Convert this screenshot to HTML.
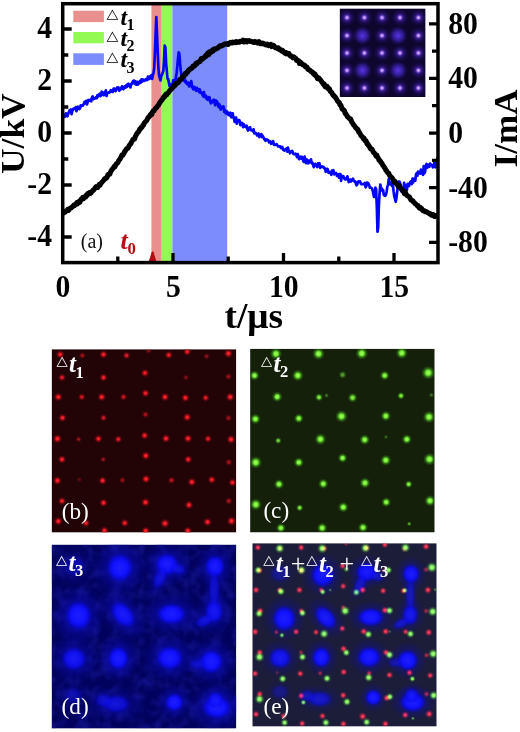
<!DOCTYPE html>
<html lang="en"><head><meta charset="utf-8"><title>Figure: discharge waveform and time-resolved pattern images</title>
<style>html,body{margin:0;padding:0;background:#fff}svg{display:block}text{font-family:"Liberation Serif", "DejaVu Serif", serif}.b{font-weight:bold}.ax{font-weight:bold;font-size:31.4px;fill:#000}.ttl{font-weight:bold;font-size:36px;fill:#000}.pl{font-size:23.2px;fill:#fff}</style></head><body>
<svg width="520" height="732" viewBox="0 0 520 732">
<defs>
<radialGradient id="gR"><stop offset="0" stop-color="#fa2c34"/><stop offset=".3" stop-color="#ea1822"/><stop offset=".58" stop-color="#b80c18" stop-opacity=".5"/><stop offset="1" stop-color="#900010" stop-opacity="0"/></radialGradient>
<radialGradient id="gG"><stop offset="0" stop-color="#aaff5c"/><stop offset=".34" stop-color="#74ee36"/><stop offset=".6" stop-color="#4cc020" stop-opacity=".5"/><stop offset="1" stop-color="#2f8a10" stop-opacity="0"/></radialGradient>
<radialGradient id="gB"><stop offset="0" stop-color="#1e1eff"/><stop offset=".52" stop-color="#1212ff"/><stop offset=".76" stop-color="#0a0aee" stop-opacity=".65"/><stop offset="1" stop-color="#0606c0" stop-opacity="0"/></radialGradient>
<radialGradient id="gBg"><stop offset="0" stop-color="#0e0ed0" stop-opacity=".9"/><stop offset=".5" stop-color="#0c0cbc" stop-opacity=".5"/><stop offset="1" stop-color="#0808a0" stop-opacity="0"/></radialGradient>
<radialGradient id="gV"><stop offset="0" stop-color="#e2c6ff"/><stop offset=".16" stop-color="#a878ff"/><stop offset=".34" stop-color="#5a30d0" stop-opacity=".6"/><stop offset=".6" stop-color="#3a1ca8" stop-opacity=".3"/><stop offset="1" stop-color="#2a1490" stop-opacity="0"/></radialGradient>
<radialGradient id="gI"><stop offset="0" stop-color="#5a34e6"/><stop offset=".5" stop-color="#4426c4" stop-opacity=".7"/><stop offset="1" stop-color="#2a1490" stop-opacity="0"/></radialGradient>
<filter id="nz" x="0" y="0" width="100%" height="100%"><feTurbulence type="fractalNoise" baseFrequency=".09" numOctaves="2" seed="3" result="t"/><feColorMatrix in="t" type="matrix" values="0 0 0 0 0.03  0 0 0 0 0.03  0 0 0 0 .72  0 0 1.5 0 -0.6"/></filter>
<filter id="bl1"><feGaussianBlur stdDeviation="1.1"/></filter>
<clipPath id="cb"><rect x="51.6" y="349.2" width="184.7" height="183.4"/></clipPath>
<clipPath id="cc"><rect x="250.1" y="348.7" width="184.6" height="183.8"/></clipPath>
<clipPath id="cd"><rect x="51.6" y="544.6" width="184.7" height="184.0"/></clipPath>
<clipPath id="ce"><rect x="252.3" y="543.2" width="184.4" height="183.4"/></clipPath>
<clipPath id="ci"><rect x="339.6" y="8.4" width="86" height="88.6"/></clipPath>
<clipPath id="cp"><rect x="62.7" y="3.7" width="375.3" height="258.9"/></clipPath>
<g id="dR"><circle cx="60.2" cy="354.5" r="4.4" fill="url(#gR)" opacity="1"/><circle cx="82.3" cy="355.5" r="3.7" fill="url(#gR)" opacity="0.6"/><circle cx="103.5" cy="354.5" r="4.4" fill="url(#gR)" opacity="1"/><circle cx="126.6" cy="355.5" r="4.2" fill="url(#gR)" opacity="0.85"/><circle cx="148.5" cy="350.8" r="3.5" fill="url(#gR)" opacity="0.45"/><circle cx="168.8" cy="355.0" r="4.4" fill="url(#gR)" opacity="0.9"/><circle cx="187.2" cy="351.7" r="4.4" fill="url(#gR)" opacity="0.95"/><circle cx="206.6" cy="356.3" r="3.7" fill="url(#gR)" opacity="0.5"/><circle cx="228.4" cy="353.5" r="4.8" fill="url(#gR)" opacity="1"/><circle cx="62.0" cy="377.5" r="4.2" fill="url(#gR)" opacity="0.9"/><circle cx="103.5" cy="377.5" r="4.4" fill="url(#gR)" opacity="0.95"/><circle cx="145.0" cy="373.0" r="4.4" fill="url(#gR)" opacity="0.95"/><circle cx="186.0" cy="377.5" r="3.5" fill="url(#gR)" opacity="0.45"/><circle cx="228.4" cy="376.6" r="4.0" fill="url(#gR)" opacity="0.55"/><circle cx="58.3" cy="397.0" r="4.6" fill="url(#gR)" opacity="1"/><circle cx="81.8" cy="397.0" r="4.0" fill="url(#gR)" opacity="0.8"/><circle cx="101.7" cy="397.0" r="4.6" fill="url(#gR)" opacity="1"/><circle cx="123.5" cy="397.0" r="4.0" fill="url(#gR)" opacity="0.75"/><circle cx="145.5" cy="393.2" r="4.4" fill="url(#gR)" opacity="0.95"/><circle cx="165.0" cy="397.0" r="4.6" fill="url(#gR)" opacity="1"/><circle cx="185.4" cy="397.8" r="4.4" fill="url(#gR)" opacity="1"/><circle cx="205.7" cy="397.8" r="4.2" fill="url(#gR)" opacity="0.9"/><circle cx="230.2" cy="397.0" r="4.8" fill="url(#gR)" opacity="1"/><circle cx="62.5" cy="417.8" r="4.4" fill="url(#gR)" opacity="1"/><circle cx="103.5" cy="417.8" r="4.0" fill="url(#gR)" opacity="0.8"/><circle cx="145.5" cy="414.5" r="4.0" fill="url(#gR)" opacity="0.6"/><circle cx="187.2" cy="417.2" r="4.6" fill="url(#gR)" opacity="1"/><circle cx="228.4" cy="418.0" r="4.0" fill="url(#gR)" opacity="0.55"/><circle cx="57.4" cy="438.8" r="4.8" fill="url(#gR)" opacity="1"/><circle cx="78.6" cy="439.2" r="3.5" fill="url(#gR)" opacity="0.55"/><circle cx="98.4" cy="438.8" r="4.4" fill="url(#gR)" opacity="0.95"/><circle cx="118.3" cy="439.2" r="4.2" fill="url(#gR)" opacity="0.9"/><circle cx="144.6" cy="435.5" r="4.4" fill="url(#gR)" opacity="0.95"/><circle cx="166.0" cy="438.5" r="4.6" fill="url(#gR)" opacity="1"/><circle cx="188.0" cy="438.5" r="4.6" fill="url(#gR)" opacity="1"/><circle cx="208.0" cy="438.8" r="4.2" fill="url(#gR)" opacity="0.9"/><circle cx="231.0" cy="439.4" r="4.8" fill="url(#gR)" opacity="1"/><circle cx="62.0" cy="459.4" r="4.4" fill="url(#gR)" opacity="1"/><circle cx="103.2" cy="459.4" r="3.5" fill="url(#gR)" opacity="0.55"/><circle cx="145.8" cy="455.7" r="4.6" fill="url(#gR)" opacity="1"/><circle cx="188.2" cy="459.4" r="4.4" fill="url(#gR)" opacity="0.95"/><circle cx="228.8" cy="462.2" r="4.0" fill="url(#gR)" opacity="0.6"/><circle cx="57.4" cy="480.6" r="4.6" fill="url(#gR)" opacity="1"/><circle cx="79.5" cy="479.7" r="3.1" fill="url(#gR)" opacity="0.3"/><circle cx="102.6" cy="480.6" r="4.4" fill="url(#gR)" opacity="1"/><circle cx="122.4" cy="480.2" r="3.7" fill="url(#gR)" opacity="0.55"/><circle cx="146.0" cy="479.0" r="4.6" fill="url(#gR)" opacity="1"/><circle cx="171.5" cy="480.2" r="4.0" fill="url(#gR)" opacity="0.7"/><circle cx="191.8" cy="482.0" r="4.6" fill="url(#gR)" opacity="1"/><circle cx="211.8" cy="479.7" r="4.4" fill="url(#gR)" opacity="0.95"/><circle cx="232.5" cy="482.5" r="4.4" fill="url(#gR)" opacity="0.95"/><circle cx="62.0" cy="501.0" r="4.4" fill="url(#gR)" opacity="0.95"/><circle cx="103.5" cy="502.8" r="4.4" fill="url(#gR)" opacity="1"/><circle cx="145.5" cy="502.3" r="4.6" fill="url(#gR)" opacity="1"/><circle cx="189.0" cy="505.0" r="4.6" fill="url(#gR)" opacity="1"/><circle cx="228.8" cy="501.0" r="4.0" fill="url(#gR)" opacity="0.65"/><circle cx="58.3" cy="521.2" r="4.6" fill="url(#gR)" opacity="1"/><circle cx="86.0" cy="523.0" r="4.4" fill="url(#gR)" opacity="0.95"/><circle cx="124.8" cy="523.0" r="4.4" fill="url(#gR)" opacity="0.95"/><circle cx="165.0" cy="523.4" r="5.0" fill="url(#gR)" opacity="1"/><circle cx="207.5" cy="522.0" r="4.6" fill="url(#gR)" opacity="1"/><circle cx="231.5" cy="521.0" r="5.0" fill="url(#gR)" opacity="1"/><circle cx="104.5" cy="530.5" r="4.4" fill="url(#gR)" opacity="1"/><circle cx="145.7" cy="530.8" r="4.4" fill="url(#gR)" opacity="1"/><circle cx="187.8" cy="530.8" r="4.4" fill="url(#gR)" opacity="1"/></g>
<g id="dG"><circle cx="276.0" cy="353.8" r="6.2" fill="url(#gG)" opacity="1"/><circle cx="318.5" cy="353.8" r="6.4" fill="url(#gG)" opacity="1"/><circle cx="361.8" cy="353.4" r="6.4" fill="url(#gG)" opacity="1"/><circle cx="401.8" cy="353.0" r="6.2" fill="url(#gG)" opacity="1"/><circle cx="254.5" cy="375.5" r="5.2" fill="url(#gG)" opacity="1"/><circle cx="297.8" cy="375.5" r="6.0" fill="url(#gG)" opacity="1"/><circle cx="342.6" cy="374.8" r="4.2" fill="url(#gG)" opacity="0.55"/><circle cx="384.7" cy="375.5" r="5.0" fill="url(#gG)" opacity="1"/><circle cx="428.2" cy="372.8" r="7.0" fill="url(#gG)" opacity="1"/><circle cx="277.2" cy="396.8" r="5.4" fill="url(#gG)" opacity="1"/><circle cx="319.0" cy="397.3" r="4.2" fill="url(#gG)" opacity="0.9"/><circle cx="326.5" cy="395.5" r="2.6" fill="url(#gG)" opacity="0.4"/><circle cx="352.6" cy="397.7" r="5.0" fill="url(#gG)" opacity="0.9"/><circle cx="401.0" cy="395.8" r="4.0" fill="url(#gG)" opacity="0.9"/><circle cx="431.4" cy="395.0" r="2.8" fill="url(#gG)" opacity="0.35"/><circle cx="255.4" cy="419.0" r="5.4" fill="url(#gG)" opacity="1"/><circle cx="298.8" cy="418.4" r="5.0" fill="url(#gG)" opacity="1"/><circle cx="341.5" cy="416.3" r="6.4" fill="url(#gG)" opacity="1"/><circle cx="385.8" cy="416.0" r="5.4" fill="url(#gG)" opacity="1"/><circle cx="429.0" cy="417.0" r="6.4" fill="url(#gG)" opacity="1"/><circle cx="278.2" cy="440.6" r="3.6" fill="url(#gG)" opacity="0.8"/><circle cx="320.4" cy="439.2" r="6.0" fill="url(#gG)" opacity="1"/><circle cx="364.7" cy="439.7" r="5.4" fill="url(#gG)" opacity="1"/><circle cx="406.8" cy="439.3" r="5.2" fill="url(#gG)" opacity="1"/><circle cx="386.0" cy="437.0" r="2.6" fill="url(#gG)" opacity="0.3"/><circle cx="255.8" cy="462.4" r="6.4" fill="url(#gG)" opacity="1"/><circle cx="298.8" cy="462.4" r="5.2" fill="url(#gG)" opacity="1"/><circle cx="342.6" cy="458.0" r="5.0" fill="url(#gG)" opacity="1"/><circle cx="385.8" cy="460.2" r="5.6" fill="url(#gG)" opacity="1"/><circle cx="429.5" cy="459.2" r="6.4" fill="url(#gG)" opacity="1"/><circle cx="279.0" cy="484.2" r="5.2" fill="url(#gG)" opacity="1"/><circle cx="323.3" cy="483.8" r="5.2" fill="url(#gG)" opacity="1"/><circle cx="365.0" cy="482.9" r="5.6" fill="url(#gG)" opacity="1"/><circle cx="408.7" cy="484.2" r="4.0" fill="url(#gG)" opacity="0.95"/><circle cx="255.8" cy="504.5" r="6.2" fill="url(#gG)" opacity="1"/><circle cx="299.7" cy="507.8" r="3.8" fill="url(#gG)" opacity="0.9"/><circle cx="343.3" cy="507.2" r="5.4" fill="url(#gG)" opacity="1"/><circle cx="386.2" cy="502.2" r="5.0" fill="url(#gG)" opacity="1"/><circle cx="430.0" cy="500.8" r="5.8" fill="url(#gG)" opacity="1"/><circle cx="280.9" cy="528.0" r="5.0" fill="url(#gG)" opacity="1"/><circle cx="322.2" cy="528.0" r="5.4" fill="url(#gG)" opacity="1"/><circle cx="363.0" cy="527.5" r="5.2" fill="url(#gG)" opacity="1"/><circle cx="409.2" cy="523.8" r="2.6" fill="url(#gG)" opacity="0.6"/></g>
<g id="dB"><ellipse cx="74.0" cy="566.0" rx="23.2" ry="20.3" transform="rotate(0 74.0 566.0)" fill="url(#gBg)" opacity="0.35"/><ellipse cx="120.0" cy="567.7" rx="27.6" ry="29.0" transform="rotate(0 120.0 567.7)" fill="url(#gBg)" opacity="1.00"/><ellipse cx="166.9" cy="564.5" rx="24.6" ry="23.2" transform="rotate(0 166.9 564.5)" fill="url(#gBg)" opacity="0.95"/><ellipse cx="160.0" cy="578.0" rx="13.0" ry="26.1" transform="rotate(25 160.0 578.0)" fill="url(#gBg)" opacity="0.55"/><ellipse cx="178.0" cy="569.0" rx="17.4" ry="11.6" transform="rotate(20 178.0 569.0)" fill="url(#gBg)" opacity="0.50"/><ellipse cx="214.9" cy="566.5" rx="20.3" ry="23.2" transform="rotate(0 214.9 566.5)" fill="url(#gBg)" opacity="0.95"/><ellipse cx="214.0" cy="590.0" rx="11.6" ry="40.6" transform="rotate(0 214.0 590.0)" fill="url(#gBg)" opacity="0.50"/><ellipse cx="78.5" cy="615.5" rx="27.6" ry="30.4" transform="rotate(0 78.5 615.5)" fill="url(#gBg)" opacity="1.00"/><ellipse cx="123.0" cy="614.5" rx="20.3" ry="31.9" transform="rotate(-40 123.0 614.5)" fill="url(#gBg)" opacity="0.90"/><ellipse cx="171.5" cy="614.0" rx="30.4" ry="21.8" transform="rotate(0 171.5 614.0)" fill="url(#gBg)" opacity="1.00"/><ellipse cx="214.0" cy="611.5" rx="18.8" ry="24.6" transform="rotate(0 214.0 611.5)" fill="url(#gBg)" opacity="0.80"/><ellipse cx="204.0" cy="621.0" rx="20.3" ry="11.6" transform="rotate(-25 204.0 621.0)" fill="url(#gBg)" opacity="0.55"/><ellipse cx="74.0" cy="658.9" rx="26.1" ry="24.6" transform="rotate(0 74.0 658.9)" fill="url(#gBg)" opacity="0.85"/><ellipse cx="118.3" cy="658.3" rx="21.8" ry="24.6" transform="rotate(0 118.3 658.3)" fill="url(#gBg)" opacity="1.00"/><ellipse cx="169.7" cy="658.0" rx="27.6" ry="24.6" transform="rotate(0 169.7 658.0)" fill="url(#gBg)" opacity="1.00"/><ellipse cx="211.2" cy="661.5" rx="24.6" ry="24.6" transform="rotate(0 211.2 661.5)" fill="url(#gBg)" opacity="1.00"/><ellipse cx="198.0" cy="664.0" rx="17.4" ry="11.6" transform="rotate(0 198.0 664.0)" fill="url(#gBg)" opacity="0.40"/><ellipse cx="116.5" cy="704.0" rx="29.0" ry="18.8" transform="rotate(0 116.5 704.0)" fill="url(#gBg)" opacity="0.60"/><ellipse cx="103.5" cy="700.5" rx="17.4" ry="14.5" transform="rotate(0 103.5 700.5)" fill="url(#gBg)" opacity="0.45"/><ellipse cx="74.0" cy="696.0" rx="20.3" ry="17.4" transform="rotate(0 74.0 696.0)" fill="url(#gBg)" opacity="0.30"/><ellipse cx="174.3" cy="702.3" rx="18.8" ry="18.8" transform="rotate(0 174.3 702.3)" fill="url(#gBg)" opacity="1.00"/><ellipse cx="216.8" cy="707.5" rx="30.4" ry="23.2" transform="rotate(0 216.8 707.5)" fill="url(#gBg)" opacity="1.00"/><ellipse cx="215.5" cy="700.0" rx="17.4" ry="17.4" transform="rotate(0 215.5 700.0)" fill="url(#gBg)" opacity="0.80"/><ellipse cx="74.0" cy="566.0" rx="11.6" ry="10.2" transform="rotate(0 74.0 566.0)" fill="url(#gB)" opacity="0.35"/><ellipse cx="120.0" cy="567.7" rx="13.8" ry="14.5" transform="rotate(0 120.0 567.7)" fill="url(#gB)" opacity="1"/><ellipse cx="166.9" cy="564.5" rx="12.3" ry="11.6" transform="rotate(0 166.9 564.5)" fill="url(#gB)" opacity="0.95"/><ellipse cx="160.0" cy="578.0" rx="6.5" ry="13.0" transform="rotate(25 160.0 578.0)" fill="url(#gB)" opacity="0.55"/><ellipse cx="178.0" cy="569.0" rx="8.7" ry="5.8" transform="rotate(20 178.0 569.0)" fill="url(#gB)" opacity="0.5"/><ellipse cx="214.9" cy="566.5" rx="10.2" ry="11.6" transform="rotate(0 214.9 566.5)" fill="url(#gB)" opacity="0.95"/><ellipse cx="214.0" cy="590.0" rx="5.8" ry="20.3" transform="rotate(0 214.0 590.0)" fill="url(#gB)" opacity="0.5"/><ellipse cx="78.5" cy="615.5" rx="13.8" ry="15.2" transform="rotate(0 78.5 615.5)" fill="url(#gB)" opacity="1"/><ellipse cx="123.0" cy="614.5" rx="10.2" ry="15.9" transform="rotate(-40 123.0 614.5)" fill="url(#gB)" opacity="0.9"/><ellipse cx="171.5" cy="614.0" rx="15.2" ry="10.9" transform="rotate(0 171.5 614.0)" fill="url(#gB)" opacity="1"/><ellipse cx="214.0" cy="611.5" rx="9.4" ry="12.3" transform="rotate(0 214.0 611.5)" fill="url(#gB)" opacity="0.8"/><ellipse cx="204.0" cy="621.0" rx="10.2" ry="5.8" transform="rotate(-25 204.0 621.0)" fill="url(#gB)" opacity="0.55"/><ellipse cx="74.0" cy="658.9" rx="13.0" ry="12.3" transform="rotate(0 74.0 658.9)" fill="url(#gB)" opacity="0.85"/><ellipse cx="118.3" cy="658.3" rx="10.9" ry="12.3" transform="rotate(0 118.3 658.3)" fill="url(#gB)" opacity="1"/><ellipse cx="169.7" cy="658.0" rx="13.8" ry="12.3" transform="rotate(0 169.7 658.0)" fill="url(#gB)" opacity="1"/><ellipse cx="211.2" cy="661.5" rx="12.3" ry="12.3" transform="rotate(0 211.2 661.5)" fill="url(#gB)" opacity="1"/><ellipse cx="198.0" cy="664.0" rx="8.7" ry="5.8" transform="rotate(0 198.0 664.0)" fill="url(#gB)" opacity="0.4"/><ellipse cx="116.5" cy="704.0" rx="14.5" ry="9.4" transform="rotate(0 116.5 704.0)" fill="url(#gB)" opacity="0.6"/><ellipse cx="103.5" cy="700.5" rx="8.7" ry="7.2" transform="rotate(0 103.5 700.5)" fill="url(#gB)" opacity="0.45"/><ellipse cx="74.0" cy="696.0" rx="10.2" ry="8.7" transform="rotate(0 74.0 696.0)" fill="url(#gB)" opacity="0.3"/><ellipse cx="174.3" cy="702.3" rx="9.4" ry="9.4" transform="rotate(0 174.3 702.3)" fill="url(#gB)" opacity="1"/><ellipse cx="216.8" cy="707.5" rx="15.2" ry="11.6" transform="rotate(0 216.8 707.5)" fill="url(#gB)" opacity="1"/><ellipse cx="215.5" cy="700.0" rx="8.7" ry="8.7" transform="rotate(0 215.5 700.0)" fill="url(#gB)" opacity="0.8"/></g>
<g id="eB"><ellipse cx="74.0" cy="566.0" rx="20.0" ry="17.5" transform="rotate(0 74.0 566.0)" fill="url(#gBg)" opacity="0.26"/><ellipse cx="120.0" cy="567.7" rx="23.8" ry="25.0" transform="rotate(0 120.0 567.7)" fill="url(#gBg)" opacity="0.75"/><ellipse cx="166.9" cy="564.5" rx="21.2" ry="20.0" transform="rotate(0 166.9 564.5)" fill="url(#gBg)" opacity="0.71"/><ellipse cx="160.0" cy="578.0" rx="11.2" ry="22.5" transform="rotate(25 160.0 578.0)" fill="url(#gBg)" opacity="0.41"/><ellipse cx="178.0" cy="569.0" rx="15.0" ry="10.0" transform="rotate(20 178.0 569.0)" fill="url(#gBg)" opacity="0.38"/><ellipse cx="214.9" cy="566.5" rx="17.5" ry="20.0" transform="rotate(0 214.9 566.5)" fill="url(#gBg)" opacity="0.71"/><ellipse cx="214.0" cy="590.0" rx="10.0" ry="35.0" transform="rotate(0 214.0 590.0)" fill="url(#gBg)" opacity="0.38"/><ellipse cx="78.5" cy="615.5" rx="23.8" ry="26.2" transform="rotate(0 78.5 615.5)" fill="url(#gBg)" opacity="0.75"/><ellipse cx="123.0" cy="614.5" rx="17.5" ry="27.5" transform="rotate(-40 123.0 614.5)" fill="url(#gBg)" opacity="0.68"/><ellipse cx="171.5" cy="614.0" rx="26.2" ry="18.8" transform="rotate(0 171.5 614.0)" fill="url(#gBg)" opacity="0.75"/><ellipse cx="214.0" cy="611.5" rx="16.2" ry="21.2" transform="rotate(0 214.0 611.5)" fill="url(#gBg)" opacity="0.60"/><ellipse cx="204.0" cy="621.0" rx="17.5" ry="10.0" transform="rotate(-25 204.0 621.0)" fill="url(#gBg)" opacity="0.41"/><ellipse cx="74.0" cy="658.9" rx="22.5" ry="21.2" transform="rotate(0 74.0 658.9)" fill="url(#gBg)" opacity="0.64"/><ellipse cx="118.3" cy="658.3" rx="18.8" ry="21.2" transform="rotate(0 118.3 658.3)" fill="url(#gBg)" opacity="0.75"/><ellipse cx="169.7" cy="658.0" rx="23.8" ry="21.2" transform="rotate(0 169.7 658.0)" fill="url(#gBg)" opacity="0.75"/><ellipse cx="211.2" cy="661.5" rx="21.2" ry="21.2" transform="rotate(0 211.2 661.5)" fill="url(#gBg)" opacity="0.75"/><ellipse cx="198.0" cy="664.0" rx="15.0" ry="10.0" transform="rotate(0 198.0 664.0)" fill="url(#gBg)" opacity="0.30"/><ellipse cx="116.5" cy="704.0" rx="25.0" ry="16.2" transform="rotate(0 116.5 704.0)" fill="url(#gBg)" opacity="0.45"/><ellipse cx="103.5" cy="700.5" rx="15.0" ry="12.5" transform="rotate(0 103.5 700.5)" fill="url(#gBg)" opacity="0.34"/><ellipse cx="74.0" cy="696.0" rx="17.5" ry="15.0" transform="rotate(0 74.0 696.0)" fill="url(#gBg)" opacity="0.22"/><ellipse cx="174.3" cy="702.3" rx="16.2" ry="16.2" transform="rotate(0 174.3 702.3)" fill="url(#gBg)" opacity="0.75"/><ellipse cx="216.8" cy="707.5" rx="26.2" ry="20.0" transform="rotate(0 216.8 707.5)" fill="url(#gBg)" opacity="0.75"/><ellipse cx="215.5" cy="700.0" rx="15.0" ry="15.0" transform="rotate(0 215.5 700.0)" fill="url(#gBg)" opacity="0.60"/><ellipse cx="74.0" cy="566.0" rx="11.2" ry="9.8" transform="rotate(0 74.0 566.0)" fill="url(#gB)" opacity="0.35"/><ellipse cx="120.0" cy="567.7" rx="13.3" ry="14.0" transform="rotate(0 120.0 567.7)" fill="url(#gB)" opacity="1"/><ellipse cx="166.9" cy="564.5" rx="11.9" ry="11.2" transform="rotate(0 166.9 564.5)" fill="url(#gB)" opacity="0.95"/><ellipse cx="160.0" cy="578.0" rx="6.3" ry="12.6" transform="rotate(25 160.0 578.0)" fill="url(#gB)" opacity="0.55"/><ellipse cx="178.0" cy="569.0" rx="8.4" ry="5.6" transform="rotate(20 178.0 569.0)" fill="url(#gB)" opacity="0.5"/><ellipse cx="214.9" cy="566.5" rx="9.8" ry="11.2" transform="rotate(0 214.9 566.5)" fill="url(#gB)" opacity="0.95"/><ellipse cx="214.0" cy="590.0" rx="5.6" ry="19.6" transform="rotate(0 214.0 590.0)" fill="url(#gB)" opacity="0.5"/><ellipse cx="78.5" cy="615.5" rx="13.3" ry="14.7" transform="rotate(0 78.5 615.5)" fill="url(#gB)" opacity="1"/><ellipse cx="123.0" cy="614.5" rx="9.8" ry="15.4" transform="rotate(-40 123.0 614.5)" fill="url(#gB)" opacity="0.9"/><ellipse cx="171.5" cy="614.0" rx="14.7" ry="10.5" transform="rotate(0 171.5 614.0)" fill="url(#gB)" opacity="1"/><ellipse cx="214.0" cy="611.5" rx="9.1" ry="11.9" transform="rotate(0 214.0 611.5)" fill="url(#gB)" opacity="0.8"/><ellipse cx="204.0" cy="621.0" rx="9.8" ry="5.6" transform="rotate(-25 204.0 621.0)" fill="url(#gB)" opacity="0.55"/><ellipse cx="74.0" cy="658.9" rx="12.6" ry="11.9" transform="rotate(0 74.0 658.9)" fill="url(#gB)" opacity="0.85"/><ellipse cx="118.3" cy="658.3" rx="10.5" ry="11.9" transform="rotate(0 118.3 658.3)" fill="url(#gB)" opacity="1"/><ellipse cx="169.7" cy="658.0" rx="13.3" ry="11.9" transform="rotate(0 169.7 658.0)" fill="url(#gB)" opacity="1"/><ellipse cx="211.2" cy="661.5" rx="11.9" ry="11.9" transform="rotate(0 211.2 661.5)" fill="url(#gB)" opacity="1"/><ellipse cx="198.0" cy="664.0" rx="8.4" ry="5.6" transform="rotate(0 198.0 664.0)" fill="url(#gB)" opacity="0.4"/><ellipse cx="116.5" cy="704.0" rx="14.0" ry="9.1" transform="rotate(0 116.5 704.0)" fill="url(#gB)" opacity="0.6"/><ellipse cx="103.5" cy="700.5" rx="8.4" ry="7.0" transform="rotate(0 103.5 700.5)" fill="url(#gB)" opacity="0.45"/><ellipse cx="74.0" cy="696.0" rx="9.8" ry="8.4" transform="rotate(0 74.0 696.0)" fill="url(#gB)" opacity="0.3"/><ellipse cx="174.3" cy="702.3" rx="9.1" ry="9.1" transform="rotate(0 174.3 702.3)" fill="url(#gB)" opacity="1"/><ellipse cx="216.8" cy="707.5" rx="14.7" ry="11.2" transform="rotate(0 216.8 707.5)" fill="url(#gB)" opacity="1"/><ellipse cx="215.5" cy="700.0" rx="8.4" ry="8.4" transform="rotate(0 215.5 700.0)" fill="url(#gB)" opacity="0.8"/></g>
<g id="eR"><circle cx="60.2" cy="354.5" r="3.9" fill="url(#gR)" opacity="1"/><circle cx="82.3" cy="355.5" r="3.3" fill="url(#gR)" opacity="0.6"/><circle cx="103.5" cy="354.5" r="3.9" fill="url(#gR)" opacity="1"/><circle cx="126.6" cy="355.5" r="3.7" fill="url(#gR)" opacity="0.85"/><circle cx="148.5" cy="350.8" r="3.1" fill="url(#gR)" opacity="0.45"/><circle cx="168.8" cy="355.0" r="3.9" fill="url(#gR)" opacity="0.9"/><circle cx="187.2" cy="351.7" r="3.9" fill="url(#gR)" opacity="0.95"/><circle cx="206.6" cy="356.3" r="3.3" fill="url(#gR)" opacity="0.5"/><circle cx="228.4" cy="353.5" r="4.2" fill="url(#gR)" opacity="1"/><circle cx="62.0" cy="377.5" r="3.7" fill="url(#gR)" opacity="0.9"/><circle cx="103.5" cy="377.5" r="3.9" fill="url(#gR)" opacity="0.95"/><circle cx="145.0" cy="373.0" r="3.9" fill="url(#gR)" opacity="0.95"/><circle cx="186.0" cy="377.5" r="3.1" fill="url(#gR)" opacity="0.45"/><circle cx="228.4" cy="376.6" r="3.5" fill="url(#gR)" opacity="0.55"/><circle cx="58.3" cy="397.0" r="4.0" fill="url(#gR)" opacity="1"/><circle cx="81.8" cy="397.0" r="3.5" fill="url(#gR)" opacity="0.8"/><circle cx="101.7" cy="397.0" r="4.0" fill="url(#gR)" opacity="1"/><circle cx="123.5" cy="397.0" r="3.5" fill="url(#gR)" opacity="0.75"/><circle cx="145.5" cy="393.2" r="3.9" fill="url(#gR)" opacity="0.95"/><circle cx="165.0" cy="397.0" r="4.0" fill="url(#gR)" opacity="1"/><circle cx="185.4" cy="397.8" r="3.9" fill="url(#gR)" opacity="1"/><circle cx="205.7" cy="397.8" r="3.7" fill="url(#gR)" opacity="0.9"/><circle cx="230.2" cy="397.0" r="4.2" fill="url(#gR)" opacity="1"/><circle cx="62.5" cy="417.8" r="3.9" fill="url(#gR)" opacity="1"/><circle cx="103.5" cy="417.8" r="3.5" fill="url(#gR)" opacity="0.8"/><circle cx="145.5" cy="414.5" r="3.5" fill="url(#gR)" opacity="0.6"/><circle cx="187.2" cy="417.2" r="4.0" fill="url(#gR)" opacity="1"/><circle cx="228.4" cy="418.0" r="3.5" fill="url(#gR)" opacity="0.55"/><circle cx="57.4" cy="438.8" r="4.2" fill="url(#gR)" opacity="1"/><circle cx="78.6" cy="439.2" r="3.1" fill="url(#gR)" opacity="0.55"/><circle cx="98.4" cy="438.8" r="3.9" fill="url(#gR)" opacity="0.95"/><circle cx="118.3" cy="439.2" r="3.7" fill="url(#gR)" opacity="0.9"/><circle cx="144.6" cy="435.5" r="3.9" fill="url(#gR)" opacity="0.95"/><circle cx="166.0" cy="438.5" r="4.0" fill="url(#gR)" opacity="1"/><circle cx="188.0" cy="438.5" r="4.0" fill="url(#gR)" opacity="1"/><circle cx="208.0" cy="438.8" r="3.7" fill="url(#gR)" opacity="0.9"/><circle cx="231.0" cy="439.4" r="4.2" fill="url(#gR)" opacity="1"/><circle cx="62.0" cy="459.4" r="3.9" fill="url(#gR)" opacity="1"/><circle cx="103.2" cy="459.4" r="3.1" fill="url(#gR)" opacity="0.55"/><circle cx="145.8" cy="455.7" r="4.0" fill="url(#gR)" opacity="1"/><circle cx="188.2" cy="459.4" r="3.9" fill="url(#gR)" opacity="0.95"/><circle cx="228.8" cy="462.2" r="3.5" fill="url(#gR)" opacity="0.6"/><circle cx="57.4" cy="480.6" r="4.0" fill="url(#gR)" opacity="1"/><circle cx="79.5" cy="479.7" r="2.8" fill="url(#gR)" opacity="0.3"/><circle cx="102.6" cy="480.6" r="3.9" fill="url(#gR)" opacity="1"/><circle cx="122.4" cy="480.2" r="3.3" fill="url(#gR)" opacity="0.55"/><circle cx="146.0" cy="479.0" r="4.0" fill="url(#gR)" opacity="1"/><circle cx="171.5" cy="480.2" r="3.5" fill="url(#gR)" opacity="0.7"/><circle cx="191.8" cy="482.0" r="4.0" fill="url(#gR)" opacity="1"/><circle cx="211.8" cy="479.7" r="3.9" fill="url(#gR)" opacity="0.95"/><circle cx="232.5" cy="482.5" r="3.9" fill="url(#gR)" opacity="0.95"/><circle cx="62.0" cy="501.0" r="3.9" fill="url(#gR)" opacity="0.95"/><circle cx="103.5" cy="502.8" r="3.9" fill="url(#gR)" opacity="1"/><circle cx="145.5" cy="502.3" r="4.0" fill="url(#gR)" opacity="1"/><circle cx="189.0" cy="505.0" r="4.0" fill="url(#gR)" opacity="1"/><circle cx="228.8" cy="501.0" r="3.5" fill="url(#gR)" opacity="0.65"/><circle cx="58.3" cy="521.2" r="4.0" fill="url(#gR)" opacity="1"/><circle cx="86.0" cy="523.0" r="3.9" fill="url(#gR)" opacity="0.95"/><circle cx="124.8" cy="523.0" r="3.9" fill="url(#gR)" opacity="0.95"/><circle cx="165.0" cy="523.4" r="4.4" fill="url(#gR)" opacity="1"/><circle cx="207.5" cy="522.0" r="4.0" fill="url(#gR)" opacity="1"/><circle cx="231.5" cy="521.0" r="4.4" fill="url(#gR)" opacity="1"/><circle cx="104.5" cy="530.5" r="3.9" fill="url(#gR)" opacity="1"/><circle cx="145.7" cy="530.8" r="3.9" fill="url(#gR)" opacity="1"/><circle cx="187.8" cy="530.8" r="3.9" fill="url(#gR)" opacity="1"/></g>
<g id="eG"><circle cx="276.0" cy="353.8" r="5.1" fill="url(#gG)" opacity="1"/><circle cx="318.5" cy="353.8" r="5.2" fill="url(#gG)" opacity="1"/><circle cx="361.8" cy="353.4" r="5.2" fill="url(#gG)" opacity="1"/><circle cx="401.8" cy="353.0" r="5.1" fill="url(#gG)" opacity="1"/><circle cx="254.5" cy="375.5" r="4.3" fill="url(#gG)" opacity="1"/><circle cx="297.8" cy="375.5" r="4.9" fill="url(#gG)" opacity="1"/><circle cx="342.6" cy="374.8" r="3.4" fill="url(#gG)" opacity="0.55"/><circle cx="384.7" cy="375.5" r="4.1" fill="url(#gG)" opacity="1"/><circle cx="428.2" cy="372.8" r="5.7" fill="url(#gG)" opacity="1"/><circle cx="277.2" cy="396.8" r="4.4" fill="url(#gG)" opacity="1"/><circle cx="319.0" cy="397.3" r="3.4" fill="url(#gG)" opacity="0.9"/><circle cx="326.5" cy="395.5" r="2.1" fill="url(#gG)" opacity="0.4"/><circle cx="352.6" cy="397.7" r="4.1" fill="url(#gG)" opacity="0.9"/><circle cx="401.0" cy="395.8" r="3.3" fill="url(#gG)" opacity="0.9"/><circle cx="431.4" cy="395.0" r="2.3" fill="url(#gG)" opacity="0.35"/><circle cx="255.4" cy="419.0" r="4.4" fill="url(#gG)" opacity="1"/><circle cx="298.8" cy="418.4" r="4.1" fill="url(#gG)" opacity="1"/><circle cx="341.5" cy="416.3" r="5.2" fill="url(#gG)" opacity="1"/><circle cx="385.8" cy="416.0" r="4.4" fill="url(#gG)" opacity="1"/><circle cx="429.0" cy="417.0" r="5.2" fill="url(#gG)" opacity="1"/><circle cx="278.2" cy="440.6" r="3.0" fill="url(#gG)" opacity="0.8"/><circle cx="320.4" cy="439.2" r="4.9" fill="url(#gG)" opacity="1"/><circle cx="364.7" cy="439.7" r="4.4" fill="url(#gG)" opacity="1"/><circle cx="406.8" cy="439.3" r="4.3" fill="url(#gG)" opacity="1"/><circle cx="386.0" cy="437.0" r="2.1" fill="url(#gG)" opacity="0.3"/><circle cx="255.8" cy="462.4" r="5.2" fill="url(#gG)" opacity="1"/><circle cx="298.8" cy="462.4" r="4.3" fill="url(#gG)" opacity="1"/><circle cx="342.6" cy="458.0" r="4.1" fill="url(#gG)" opacity="1"/><circle cx="385.8" cy="460.2" r="4.6" fill="url(#gG)" opacity="1"/><circle cx="429.5" cy="459.2" r="5.2" fill="url(#gG)" opacity="1"/><circle cx="279.0" cy="484.2" r="4.3" fill="url(#gG)" opacity="1"/><circle cx="323.3" cy="483.8" r="4.3" fill="url(#gG)" opacity="1"/><circle cx="365.0" cy="482.9" r="4.6" fill="url(#gG)" opacity="1"/><circle cx="408.7" cy="484.2" r="3.3" fill="url(#gG)" opacity="0.95"/><circle cx="255.8" cy="504.5" r="5.1" fill="url(#gG)" opacity="1"/><circle cx="299.7" cy="507.8" r="3.1" fill="url(#gG)" opacity="0.9"/><circle cx="343.3" cy="507.2" r="4.4" fill="url(#gG)" opacity="1"/><circle cx="386.2" cy="502.2" r="4.1" fill="url(#gG)" opacity="1"/><circle cx="430.0" cy="500.8" r="4.8" fill="url(#gG)" opacity="1"/><circle cx="280.9" cy="528.0" r="4.1" fill="url(#gG)" opacity="1"/><circle cx="322.2" cy="528.0" r="4.4" fill="url(#gG)" opacity="1"/><circle cx="363.0" cy="527.5" r="4.3" fill="url(#gG)" opacity="1"/><circle cx="409.2" cy="523.8" r="2.1" fill="url(#gG)" opacity="0.6"/></g>
</defs>
<rect width="520" height="732" fill="#fff"/>
<g id="plot">
<rect x="151.4" y="3.7" width="10.3" height="258.9" fill="#e98f8e"/>
<rect x="161.7" y="3.7" width="10.7" height="258.9" fill="#93fa54"/>
<rect x="172.4" y="3.7" width="54.8" height="258.9" fill="#7d8cfb"/>
<g id="inset" clip-path="url(#ci)"><rect x="339.6" y="8.4" width="86" height="88.6" fill="#0f062e"/>
<circle cx="347" cy="17.6" r="8.6" fill="url(#gV)"/>
<circle cx="364.4" cy="17.6" r="8.6" fill="url(#gV)"/>
<circle cx="382" cy="17.6" r="8.6" fill="url(#gV)"/>
<circle cx="400" cy="17.6" r="8.6" fill="url(#gV)"/>
<circle cx="418.4" cy="17.6" r="8.6" fill="url(#gV)"/>
<circle cx="347" cy="35.6" r="8.6" fill="url(#gV)"/>
<circle cx="362.4" cy="35.6" r="9.5" fill="url(#gI)"/>
<circle cx="382" cy="35.6" r="8.6" fill="url(#gV)"/>
<circle cx="398.0" cy="35.6" r="9.5" fill="url(#gI)"/>
<circle cx="418.4" cy="35.6" r="8.6" fill="url(#gV)"/>
<circle cx="347" cy="53" r="8.6" fill="url(#gV)"/>
<circle cx="364.4" cy="53" r="8.6" fill="url(#gV)"/>
<circle cx="382" cy="53" r="8.6" fill="url(#gV)"/>
<circle cx="400" cy="53" r="8.6" fill="url(#gV)"/>
<circle cx="418.4" cy="53" r="8.6" fill="url(#gV)"/>
<circle cx="347" cy="70.4" r="8.6" fill="url(#gV)"/>
<circle cx="362.4" cy="70.4" r="9.5" fill="url(#gI)"/>
<circle cx="382" cy="70.4" r="8.6" fill="url(#gV)"/>
<circle cx="398.0" cy="70.4" r="9.5" fill="url(#gI)"/>
<circle cx="418.4" cy="70.4" r="8.6" fill="url(#gV)"/>
<circle cx="347" cy="88" r="8.6" fill="url(#gV)"/>
<circle cx="364.4" cy="88" r="8.6" fill="url(#gV)"/>
<circle cx="382" cy="88" r="8.6" fill="url(#gV)"/>
<circle cx="400" cy="88" r="8.6" fill="url(#gV)"/>
<circle cx="418.4" cy="88" r="8.6" fill="url(#gV)"/>
</g>
<g clip-path="url(#cp)"><polyline points="62.5,114.7 63.2,117.8 63.9,116.2 64.6,114.9 65.3,116.5 66.0,113.4 66.7,115.3 67.4,116.4 68.1,114.3 68.8,112.3 69.5,110.5 70.2,110.8 70.9,109.5 71.6,114.2 72.3,111.0 73.0,109.3 73.7,108.5 74.4,108.4 75.1,109.1 75.8,107.2 76.5,111.2 77.2,107.1 77.9,106.6 78.6,107.8 79.3,109.1 80.0,108.5 80.7,105.3 81.4,106.0 82.1,105.4 82.8,105.6 83.5,104.7 84.2,102.5 84.9,101.6 85.6,103.4 86.3,100.9 87.0,104.4 87.7,102.0 88.4,100.0 89.1,100.7 89.8,100.0 90.5,100.2 91.2,101.4 91.9,97.4 92.6,96.4 93.3,99.3 94.0,98.2 94.7,98.3 95.4,98.4 96.1,97.1 96.8,98.2 97.5,95.2 98.2,96.3 98.9,94.6 99.6,93.8 100.3,96.1 101.0,95.7 101.7,91.6 102.4,92.5 103.1,94.2 103.8,95.1 104.5,92.2 105.2,92.6 105.9,90.4 106.6,96.0 107.3,92.7 108.0,93.0 108.7,92.4 109.4,92.6 110.1,91.8 110.8,90.2 111.5,91.5 112.2,90.3 112.9,91.9 113.6,88.6 114.3,88.7 115.0,90.2 115.7,91.0 116.4,89.0 117.1,87.5 117.8,88.2 118.5,87.4 119.2,90.8 119.9,89.1 120.6,89.5 121.3,87.8 122.0,86.3 122.7,88.7 123.4,89.2 124.1,87.4 124.8,86.3 125.5,87.7 126.2,85.3 126.9,86.8 127.6,84.3 128.3,83.7 129.0,85.8 129.7,85.2 130.4,87.4 131.1,83.9 131.8,84.1 132.5,82.1 133.2,80.8 133.9,80.7 134.6,83.8 135.3,81.2 136.0,84.4 136.7,84.6 137.4,81.8 138.1,84.5 138.8,82.1 139.5,83.2 140.2,80.9 140.9,82.5 141.6,79.4 142.3,81.5 143.0,79.6 143.7,79.9 144.4,80.8 145.1,79.8 145.8,79.2 146.5,80.2 147.2,80.0 147.9,76.5 148.6,79.1 149.3,79.0 150.0,76.5 150.7,78.0 151.4,75.1 152.1,78.9 152.8,75.4 153.5,73.0 154.2,68.3 154.9,52.7 155.6,34.5 156.3,17.2 157.0,34.2 157.7,52.2 158.4,67.6 159.1,75.5 159.8,78.1 160.5,80.4 161.2,76.3 161.9,74.9 162.6,73.0 163.3,71.0 164.0,61.6 164.7,45.6 165.4,47.5 166.1,63.0 166.8,71.0 167.5,78.6 168.2,79.1 168.9,82.4 169.6,86.3 170.3,84.9 171.0,86.1 171.7,83.8 172.4,87.6 173.1,80.3 173.8,81.4 174.5,80.2 175.2,82.3 175.9,77.4 176.6,73.0 177.3,66.3 178.0,58.4 178.7,52.3 179.4,53.7 180.1,63.7 180.8,70.9 181.5,75.4 182.2,78.5 182.9,80.0 183.6,80.5 184.3,78.5 185.0,82.1 185.7,80.7 186.4,83.0 187.1,84.2 187.8,82.8 188.5,82.7 189.2,86.5 189.9,85.9 190.6,84.6 191.3,81.1 192.0,86.5 192.7,88.1 193.4,89.4 194.1,86.8 194.8,87.3 195.5,88.1 196.2,90.8 196.9,87.9 197.6,90.2 198.3,89.3 199.0,91.8 199.7,89.2 200.4,93.0 201.1,92.0 201.8,93.0 202.5,94.7 203.2,96.3 203.9,92.0 204.6,97.0 205.3,96.7 206.0,95.8 206.7,99.1 207.4,97.6 208.1,99.9 208.8,97.2 209.5,97.3 210.2,101.3 210.9,103.3 211.6,101.3 212.3,102.2 213.0,100.5 213.7,99.6 214.4,101.9 215.1,105.3 215.8,100.3 216.5,103.1 217.2,101.4 217.9,105.3 218.6,107.1 219.3,104.2 220.0,106.2 220.7,109.7 221.4,107.9 222.1,106.6 222.8,107.0 223.5,106.5 224.2,111.7 224.9,109.7 225.6,113.3 226.3,113.5 227.0,111.5 227.7,112.3 228.4,115.0 229.1,114.5 229.8,115.3 230.5,112.7 231.2,117.4 231.9,115.0 232.6,113.3 233.3,116.5 234.0,118.8 234.7,122.0 235.4,118.5 236.1,117.5 236.8,123.6 237.5,121.0 238.2,120.8 238.9,120.0 239.6,120.6 240.3,125.1 241.0,122.8 241.7,122.8 242.4,123.4 243.1,127.2 243.8,124.2 244.5,126.7 245.2,126.6 245.9,127.0 246.6,125.6 247.3,128.6 248.0,130.6 248.7,128.4 249.4,127.5 250.1,127.3 250.8,130.2 251.5,129.9 252.2,130.6 252.9,131.3 253.6,129.3 254.3,133.4 255.0,133.0 255.7,132.9 256.4,133.9 257.1,135.4 257.8,134.5 258.5,133.5 259.2,137.1 259.9,135.0 260.6,135.0 261.3,134.1 262.0,137.1 262.7,135.8 263.4,137.1 264.1,139.1 264.8,138.8 265.5,140.8 266.2,140.1 266.9,139.4 267.6,140.0 268.3,140.1 269.0,142.3 269.7,141.7 270.4,141.5 271.1,143.8 271.8,143.0 272.5,142.5 273.2,141.2 273.9,144.7 274.6,144.8 275.3,144.8 276.0,144.4 276.7,144.1 277.4,145.4 278.1,146.5 278.8,146.3 279.5,146.6 280.2,146.4 280.9,148.0 281.6,148.2 282.3,147.0 283.0,149.7 283.7,150.1 284.4,150.5 285.1,149.3 285.8,149.6 286.5,148.4 287.2,151.7 287.9,147.6 288.6,150.6 289.3,151.1 290.0,153.3 290.7,152.3 291.4,151.2 292.1,150.8 292.8,152.2 293.5,153.9 294.2,154.2 294.9,154.1 295.6,153.7 296.3,154.8 297.0,157.0 297.7,154.1 298.4,156.3 299.1,159.1 299.8,157.8 300.5,156.6 301.2,158.6 301.9,156.8 302.6,158.3 303.3,161.1 304.0,162.0 304.7,156.7 305.4,160.8 306.1,163.1 306.8,159.5 307.5,161.1 308.2,163.4 308.9,160.6 309.6,162.4 310.3,162.0 311.0,159.3 311.7,163.3 312.4,162.8 313.1,164.9 313.8,167.1 314.5,165.2 315.2,163.8 315.9,165.5 316.6,165.4 317.3,167.1 318.0,163.4 318.7,164.2 319.4,163.1 320.1,167.8 320.8,167.1 321.5,166.4 322.2,166.6 322.9,167.2 323.6,166.9 324.3,168.3 325.0,168.3 325.7,171.8 326.4,170.4 327.1,168.8 327.8,169.5 328.5,172.8 329.2,171.9 329.9,172.0 330.6,173.0 331.3,174.8 332.0,170.5 332.7,171.6 333.4,170.2 334.1,174.3 334.8,173.2 335.5,173.0 336.2,173.1 336.9,175.9 337.6,174.8 338.3,174.4 339.0,177.7 339.7,174.1 340.4,174.0 341.1,180.9 341.8,176.1 342.5,176.1 343.2,176.0 343.9,177.3 344.6,179.1 345.3,179.4 346.0,179.3 346.7,178.1 347.4,176.3 348.1,179.6 348.8,182.0 349.5,181.5 350.2,179.6 350.9,181.5 351.6,179.7 352.3,180.5 353.0,178.7 353.7,180.5 354.4,181.6 355.1,181.3 355.8,183.1 356.5,185.3 357.2,184.6 357.9,181.9 358.6,181.4 359.3,181.7 360.0,181.3 360.7,183.3 361.4,184.2 362.1,184.0 362.8,184.2 363.5,184.2 364.2,183.8 364.9,182.8 365.6,187.4 366.3,186.3 367.0,182.7 367.7,182.8 368.4,183.5 369.1,184.9 369.8,187.6 370.5,187.4 371.2,187.9 371.9,188.3 372.6,190.2 373.3,193.6 374.0,196.9 374.7,196.3 375.4,187.7 376.1,189.1 376.8,206.2 377.5,231.7 378.2,227.0 378.9,204.8 379.6,192.9 380.3,184.5 381.0,189.3 381.7,188.4 382.4,191.0 383.1,190.0 383.8,194.8 384.5,195.5 385.2,195.9 385.9,194.8 386.6,192.0 387.3,186.6 388.0,185.4 388.7,179.2 389.4,183.7 390.1,184.3 390.8,182.5 391.5,182.8 392.2,186.2 392.9,185.1 393.6,191.2 394.3,196.3 395.0,198.9 395.7,201.8 396.4,198.2 397.1,192.0 397.8,187.1 398.5,181.6 399.2,181.5 399.9,182.2 400.6,185.7 401.3,191.3 402.0,189.9 402.7,190.9 403.4,190.4 404.1,182.8 404.8,186.2 405.5,185.4 406.2,189.3 406.9,190.1 407.6,183.9 408.3,185.3 409.0,186.1 409.7,183.0 410.4,182.0 411.1,181.2 411.8,184.2 412.5,178.6 413.2,182.5 413.9,178.8 414.6,179.6 415.3,180.6 416.0,174.3 416.7,173.2 417.4,175.7 418.1,171.7 418.8,172.0 419.5,173.2 420.2,173.5 420.9,169.7 421.6,171.5 422.3,173.4 423.0,174.8 423.7,166.1 424.4,173.3 425.1,171.5 425.8,165.8 426.5,164.0 427.2,167.7 427.9,164.9 428.6,165.6 429.3,166.9 430.0,163.5 430.7,164.4 431.4,164.9 432.1,165.6 432.8,167.3 433.5,166.9 434.2,163.0 434.9,161.4 435.6,167.3 436.3,162.7 437.0,161.7 437.7,157.6" fill="none" stroke="#0404f8" stroke-width="2.7" stroke-linejoin="round"/>
<polyline points="62.5,214.4 63.2,212.8 64.0,212.7 64.8,212.4 65.5,211.3 66.2,211.2 67.0,210.7 67.8,209.3 68.5,210.3 69.2,209.5 70.0,208.3 70.8,208.0 71.5,207.8 72.2,206.9 73.0,206.3 73.8,205.1 74.5,205.6 75.2,204.8 76.0,204.3 76.8,202.7 77.5,203.8 78.2,202.4 79.0,201.5 79.8,202.3 80.5,200.5 81.2,199.1 82.0,199.1 82.8,197.4 83.5,198.7 84.2,197.3 85.0,196.5 85.8,196.9 86.5,194.8 87.2,195.4 88.0,193.3 88.8,193.5 89.5,192.6 90.2,193.4 91.0,193.0 91.8,191.2 92.5,191.2 93.2,190.0 94.0,189.8 94.8,188.4 95.5,187.2 96.2,186.5 97.0,187.0 97.8,187.4 98.5,185.6 99.2,184.5 100.0,185.1 100.8,183.5 101.5,182.7 102.2,182.0 103.0,181.0 103.8,180.2 104.5,178.8 105.2,179.0 106.0,177.9 106.8,177.7 107.5,176.0 108.2,174.2 109.0,174.3 109.8,174.3 110.5,172.1 111.2,170.8 112.0,169.5 112.8,168.6 113.5,167.9 114.2,166.3 115.0,166.7 115.8,164.6 116.5,163.8 117.2,163.4 118.0,162.4 118.8,160.4 119.5,159.6 120.2,158.8 121.0,157.2 121.8,155.2 122.5,155.5 123.2,154.5 124.0,153.2 124.8,151.3 125.5,150.7 126.2,149.3 127.0,148.4 127.8,148.2 128.5,147.2 129.2,145.7 130.0,144.6 130.8,143.6 131.5,142.1 132.2,141.0 133.0,139.6 133.8,138.8 134.5,139.0 135.2,137.1 136.0,135.2 136.8,134.0 137.5,132.7 138.2,132.2 139.0,131.1 139.8,129.0 140.5,128.9 141.2,127.3 142.0,127.3 142.8,125.5 143.5,125.3 144.2,123.1 145.0,122.2 145.8,121.4 146.5,120.8 147.2,119.6 148.0,117.6 148.8,117.3 149.5,116.3 150.2,115.0 151.0,113.9 151.8,114.3 152.5,112.1 153.2,110.9 154.0,110.8 154.8,109.5 155.5,108.4 156.2,107.9 157.0,106.8 157.8,105.7 158.5,105.1 159.2,103.7 160.0,102.2 160.8,101.4 161.5,100.3 162.2,99.7 163.0,98.1 163.8,96.8 164.5,97.0 165.2,95.3 166.0,94.2 166.8,94.6 167.5,93.2 168.2,93.1 169.0,91.7 169.8,90.6 170.5,89.7 171.2,89.3 172.0,88.6 172.8,87.4 173.5,86.9 174.2,85.4 175.0,85.4 175.8,83.6 176.5,83.6 177.2,83.3 178.0,82.7 178.8,82.2 179.5,79.6 180.2,80.0 181.0,79.4 181.8,78.5 182.5,76.6 183.2,76.5 184.0,76.5 184.8,73.9 185.5,74.2 186.2,73.8 187.0,72.0 187.8,72.0 188.5,70.3 189.2,69.7 190.0,69.0 190.8,68.9 191.5,68.0 192.2,67.9 193.0,66.2 193.8,65.9 194.5,65.9 195.2,65.0 196.0,63.3 196.8,63.8 197.5,62.5 198.2,62.4 199.0,61.7 199.8,61.6 200.5,60.4 201.2,58.7 202.0,58.4 202.8,58.9 203.5,57.7 204.2,57.8 205.0,56.7 205.8,55.5 206.5,55.9 207.2,54.2 208.0,52.9 208.8,54.6 209.5,51.8 210.2,52.7 211.0,52.4 211.8,51.5 212.5,50.0 213.2,51.0 214.0,49.1 214.8,48.7 215.5,48.8 216.2,49.0 217.0,48.3 217.8,48.1 218.5,47.0 219.2,46.7 220.0,45.8 220.8,45.9 221.5,46.0 222.2,45.2 223.0,45.3 223.8,44.4 224.5,44.1 225.2,44.2 226.0,43.9 226.8,44.1 227.5,43.7 228.2,44.4 229.0,43.1 229.8,42.9 230.5,42.3 231.2,42.8 232.0,43.0 232.8,42.1 233.5,42.3 234.2,42.6 235.0,42.1 235.8,41.7 236.5,42.5 237.2,41.9 238.0,42.0 238.8,42.3 239.5,42.2 240.2,41.3 241.0,41.2 241.8,41.5 242.5,41.3 243.2,40.2 244.0,41.9 244.8,41.2 245.5,41.6 246.2,40.6 247.0,41.9 247.8,40.9 248.5,41.2 249.2,40.6 250.0,41.3 250.8,41.4 251.5,41.5 252.2,41.9 253.0,41.8 253.8,42.4 254.5,41.7 255.2,41.5 256.0,42.2 256.8,42.7 257.5,43.1 258.2,43.0 259.0,41.7 259.8,43.0 260.5,43.7 261.2,43.1 262.0,43.0 262.8,43.6 263.5,43.3 264.2,44.1 265.0,44.0 265.8,44.9 266.5,44.7 267.2,44.2 268.0,45.2 268.8,45.6 269.5,45.0 270.2,45.3 271.0,44.5 271.8,46.5 272.5,45.9 273.2,45.4 274.0,45.8 274.8,47.0 275.5,47.8 276.2,47.7 277.0,48.3 277.8,47.8 278.5,48.0 279.2,49.6 280.0,49.8 280.8,49.9 281.5,51.0 282.2,50.2 283.0,50.9 283.8,52.1 284.5,53.0 285.2,52.4 286.0,53.7 286.8,52.9 287.5,53.9 288.2,54.0 289.0,53.7 289.8,55.2 290.5,56.0 291.2,55.9 292.0,56.4 292.8,57.8 293.5,56.8 294.2,57.2 295.0,58.2 295.8,58.4 296.5,60.4 297.2,60.4 298.0,60.3 298.8,61.0 299.5,63.5 300.2,62.1 301.0,62.6 301.8,63.8 302.5,64.6 303.2,64.9 304.0,64.9 304.8,65.4 305.5,66.9 306.2,67.2 307.0,67.0 307.8,69.2 308.5,69.6 309.2,69.7 310.0,70.3 310.8,71.3 311.5,71.5 312.2,71.8 313.0,73.4 313.8,73.1 314.5,74.8 315.2,74.5 316.0,76.0 316.8,76.7 317.5,78.5 318.2,77.7 319.0,78.2 319.8,79.4 320.5,79.9 321.2,80.9 322.0,82.3 322.8,83.2 323.5,84.5 324.2,84.0 325.0,86.6 325.8,87.1 326.5,86.7 327.2,86.4 328.0,88.4 328.8,89.4 329.5,89.0 330.2,91.1 331.0,91.9 331.8,92.5 332.5,94.2 333.2,95.3 334.0,95.5 334.8,96.9 335.5,97.4 336.2,98.5 337.0,100.0 337.8,101.4 338.5,102.0 339.2,102.3 340.0,105.0 340.8,105.0 341.5,107.1 342.2,109.2 343.0,109.4 343.8,110.0 344.5,111.0 345.2,113.5 346.0,114.0 346.8,115.4 347.5,116.7 348.2,117.2 349.0,118.1 349.8,118.8 350.5,118.7 351.2,120.6 352.0,122.4 352.8,123.4 353.5,124.7 354.2,125.4 355.0,126.6 355.8,128.0 356.5,128.1 357.2,129.4 358.0,129.7 358.8,132.2 359.5,132.7 360.2,133.9 361.0,135.6 361.8,136.3 362.5,136.8 363.2,138.3 364.0,138.1 364.8,140.2 365.5,141.0 366.2,141.1 367.0,143.8 367.8,143.7 368.5,145.5 369.2,145.9 370.0,147.8 370.8,149.0 371.5,148.9 372.2,149.5 373.0,151.3 373.8,152.9 374.5,153.3 375.2,154.2 376.0,155.9 376.8,155.1 377.5,157.3 378.2,158.0 379.0,160.0 379.8,160.5 380.5,161.4 381.2,162.9 382.0,163.4 382.8,165.3 383.5,166.0 384.2,167.2 385.0,168.1 385.8,170.1 386.5,170.6 387.2,172.0 388.0,173.0 388.8,173.4 389.5,175.2 390.2,176.0 391.0,177.0 391.8,177.6 392.5,178.5 393.2,180.1 394.0,181.8 394.8,181.1 395.5,182.7 396.2,183.1 397.0,184.7 397.8,185.4 398.5,186.6 399.2,185.3 400.0,187.4 400.8,188.0 401.5,189.3 402.2,189.8 403.0,190.7 403.8,192.2 404.5,193.7 405.2,191.9 406.0,194.1 406.8,195.2 407.5,195.8 408.2,196.4 409.0,196.6 409.8,197.6 410.5,199.3 411.2,200.2 412.0,200.5 412.8,200.7 413.5,202.0 414.2,202.5 415.0,203.7 415.8,204.2 416.5,204.5 417.2,205.6 418.0,205.6 418.8,207.3 419.5,208.1 420.2,207.4 421.0,208.9 421.8,208.6 422.5,210.3 423.2,210.7 424.0,210.5 424.8,211.6 425.5,211.3 426.2,211.6 427.0,212.1 427.8,212.7 428.5,213.0 429.2,213.7 430.0,213.6 430.8,214.7 431.5,215.2 432.2,214.7 433.0,214.5 433.8,216.0 434.5,216.5 435.2,216.1 436.0,215.7 436.8,216.8 437.5,217.7" fill="none" stroke="#000" stroke-width="5.1" stroke-linejoin="round"/></g>
<path d="M148.6 262 L151.6 252.2 Q152.6 250.2 153.6 252.2 L156.6 262 Z" fill="#b40d12"/>
<path d="M62.7 237.0h9 M62.7 185.0h9 M62.7 133.0h9 M62.7 81.0h9 M62.7 29.0h9 M62.7 211.0h5.6 M62.7 159.0h5.6 M62.7 107.0h5.6 M62.7 55.0h5.6 M438.0 242.3h-9 M438.0 187.7h-9 M438.0 133.1h-9 M438.0 78.4h-9 M438.0 23.8h-9 M438.0 215.0h-6 M438.0 160.4h-6 M438.0 105.7h-6 M438.0 51.1h-6 M173.0 262.6v-9.6 M283.5 262.6v-9.6 M394.0 262.6v-9.6 M117.8 262.6v-6 M228.2 262.6v-6 M338.8 262.6v-6" stroke="#000" stroke-width="3.3" fill="none"/>
<rect x="62.7" y="3.7" width="375.3" height="258.9" fill="none" stroke="#000" stroke-width="3.5"/>
<rect x="73.3" y="10.7" width="30.6" height="11.4" fill="#e98f8e"/>
<rect x="73.3" y="32" width="30.6" height="11.3" fill="#93fa54"/>
<rect x="73.3" y="53.3" width="30.6" height="11.6" fill="#7d8cfb"/>
<text transform="translate(106.6 18.2) scale(1.22 1.07)" fill="#000" font-family='"DejaVu Sans", "Liberation Sans", sans-serif' font-weight="bold" font-size="12.6">△</text><text fill="#000" font-family='"Liberation Serif", "DejaVu Serif", serif'><tspan x="120.4" y="24.6" font-size="23.8" font-weight="bold" font-style="italic">t</tspan><tspan x="126.5" y="30.0" font-size="16" font-weight="bold">1</tspan></text>
<text transform="translate(106.6 39.6) scale(1.22 1.07)" fill="#000" font-family='"DejaVu Sans", "Liberation Sans", sans-serif' font-weight="bold" font-size="12.6">△</text><text fill="#000" font-family='"Liberation Serif", "DejaVu Serif", serif'><tspan x="120.4" y="46.0" font-size="23.8" font-weight="bold" font-style="italic">t</tspan><tspan x="126.5" y="51.4" font-size="16" font-weight="bold">2</tspan></text>
<text transform="translate(106.6 60.9) scale(1.22 1.07)" fill="#000" font-family='"DejaVu Sans", "Liberation Sans", sans-serif' font-weight="bold" font-size="12.6">△</text><text fill="#000" font-family='"Liberation Serif", "DejaVu Serif", serif'><tspan x="120.4" y="67.3" font-size="23.8" font-weight="bold" font-style="italic">t</tspan><tspan x="126.5" y="72.7" font-size="16" font-weight="bold">3</tspan></text>
<text x="80.8" y="247.6" font-size="20" fill="#111">(a)</text>
<text fill="#b40d12"><tspan x="120.6" y="249.2" font-size="26" font-weight="bold" font-style="italic">t</tspan><tspan x="127.6" y="253.8" font-size="16.8" font-weight="bold">0</tspan></text>
<text class="ax" transform="translate(52 38.2) scale(.945 1)" text-anchor="end">4</text>
<text class="ax" transform="translate(52 90.2) scale(.945 1)" text-anchor="end">2</text>
<text class="ax" transform="translate(52 142.2) scale(.945 1)" text-anchor="end">0</text>
<text class="ax" transform="translate(52 194.2) scale(.945 1)" text-anchor="end">-2</text>
<text class="ax" transform="translate(52 246.2) scale(.945 1)" text-anchor="end">-4</text>
<text class="ax" transform="translate(448.2 33.7) scale(.945 1)">80</text>
<text class="ax" transform="translate(448.2 88.3) scale(.945 1)">40</text>
<text class="ax" transform="translate(448.2 143.0) scale(.945 1)">0</text>
<text class="ax" transform="translate(448.2 197.6) scale(.945 1)">-40</text>
<text class="ax" transform="translate(448.2 252.2) scale(.945 1)">-80</text>
<text class="ax" transform="translate(62.8 296.8) scale(.945 1)" text-anchor="middle">0</text>
<text class="ax" transform="translate(173.3 296.8) scale(.945 1)" text-anchor="middle">5</text>
<text class="ax" transform="translate(283.8 296.8) scale(.945 1)" text-anchor="middle">10</text>
<text class="ax" transform="translate(394.3 296.8) scale(.945 1)" text-anchor="middle">15</text>
<text class="ttl" x="253.8" y="328.3" text-anchor="middle" textLength="58.6" lengthAdjust="spacingAndGlyphs">t/μs</text>
<text class="ttl" style="font-size:34.5px" transform="translate(24.0 133.7) rotate(-90)" text-anchor="middle" textLength="80.6" lengthAdjust="spacingAndGlyphs">U/kV</text>
<text class="ttl" style="font-size:34.5px" transform="translate(517.2 128.4) rotate(-90)" text-anchor="middle" textLength="78" lengthAdjust="spacingAndGlyphs">I/mA</text>
</g>
<g id="pb" clip-path="url(#cb)"><rect x="51.6" y="349.2" width="184.7" height="183.4" fill="#220407"/><use href="#dR"/></g>
<text transform="translate(56.4 365.3) scale(1.16 1.03)" fill="#fff" font-family='"DejaVu Sans", "Liberation Sans", sans-serif' font-weight="bold" font-size="12.6">△</text><text fill="#fff" font-family='"Liberation Serif", "DejaVu Serif", serif'><tspan x="69.0" y="372.4" font-size="25" font-weight="bold" font-style="italic">t</tspan><tspan x="75.5" y="377.8" font-size="16.5" font-weight="bold">1</tspan></text>
<text class="pl" x="61.8" y="518.8">(b)</text>
<g id="pc" clip-path="url(#cc)"><rect x="250.1" y="348.7" width="184.6" height="183.8" fill="#15200b"/><use href="#dG"/></g>
<text transform="translate(261.0 364.8) scale(1.16 1.03)" fill="#fff" font-family='"DejaVu Sans", "Liberation Sans", sans-serif' font-weight="bold" font-size="12.6">△</text><text fill="#fff" font-family='"Liberation Serif", "DejaVu Serif", serif'><tspan x="273.6" y="371.9" font-size="25" font-weight="bold" font-style="italic">t</tspan><tspan x="280.1" y="377.3" font-size="16.5" font-weight="bold">2</tspan></text>
<text class="pl" x="263.4" y="518.4">(c)</text>
<g id="pd" clip-path="url(#cd)"><rect x="51.6" y="544.6" width="184.7" height="184.0" fill="#02025e"/><rect x="51.6" y="544.6" width="184.7" height="184.0" filter="url(#nz)" opacity=".5"/><use href="#dB"/></g>
<text transform="translate(56.0 563.7) scale(1.16 1.03)" fill="#fff" font-family='"DejaVu Sans", "Liberation Sans", sans-serif' font-weight="bold" font-size="12.6">△</text><text fill="#fff" font-family='"Liberation Serif", "DejaVu Serif", serif'><tspan x="68.6" y="570.8" font-size="25" font-weight="bold" font-style="italic">t</tspan><tspan x="75.1" y="576.2" font-size="16.5" font-weight="bold">3</tspan></text>
<text class="pl" x="61.6" y="714.4">(d)</text>
<g id="pe" clip-path="url(#ce)" style="isolation:isolate"><rect x="252.3" y="543.2" width="184.4" height="183.4" fill="#1c1d38"/><use href="#eB" transform="translate(211.2 58.4) scale(.93 .91)"/><use href="#eR" transform="translate(197.7 193.0)" style="mix-blend-mode:screen"/><use href="#eG" transform="translate(3.7 194.6)" style="mix-blend-mode:screen"/></g>
<text transform="translate(263.2 564.4) scale(1.16 1.03)" fill="#fff" font-family='"DejaVu Sans", "Liberation Sans", sans-serif' font-weight="bold" font-size="12.6">△</text><text fill="#fff" font-family='"Liberation Serif", "DejaVu Serif", serif'><tspan x="275.8" y="571.5" font-size="25" font-weight="bold" font-style="italic">t</tspan><tspan x="282.3" y="576.9" font-size="16.5" font-weight="bold">1</tspan></text>
<text x="290.8" y="572.4" font-size="26" fill="#fff">+</text>
<text transform="translate(306.3 564.4) scale(1.16 1.03)" fill="#fff" font-family='"DejaVu Sans", "Liberation Sans", sans-serif' font-weight="bold" font-size="12.6">△</text><text fill="#fff" font-family='"Liberation Serif", "DejaVu Serif", serif'><tspan x="318.9" y="571.5" font-size="25" font-weight="bold" font-style="italic">t</tspan><tspan x="325.4" y="576.9" font-size="16.5" font-weight="bold">2</tspan></text>
<text x="339.4" y="572.4" font-size="26" fill="#fff">+</text>
<text transform="translate(360.9 564.4) scale(1.16 1.03)" fill="#fff" font-family='"DejaVu Sans", "Liberation Sans", sans-serif' font-weight="bold" font-size="12.6">△</text><text fill="#fff" font-family='"Liberation Serif", "DejaVu Serif", serif'><tspan x="373.5" y="571.5" font-size="25" font-weight="bold" font-style="italic">t</tspan><tspan x="380.0" y="576.9" font-size="16.5" font-weight="bold">3</tspan></text>
<text class="pl" x="263.6" y="714.2">(e)</text>
</svg></body></html>
